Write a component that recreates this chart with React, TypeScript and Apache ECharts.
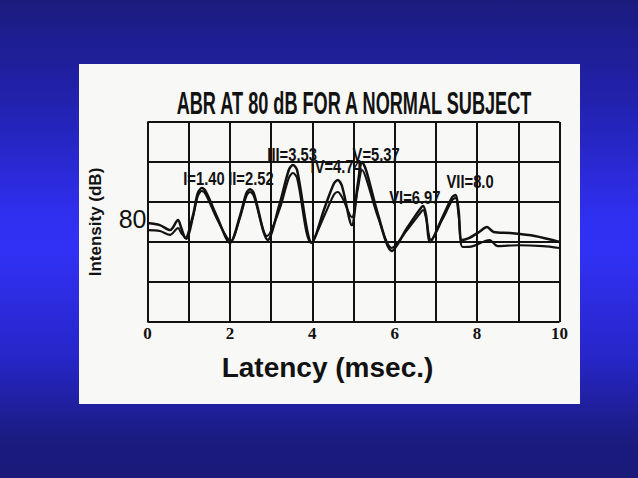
import React, { useEffect, useRef } from 'react';
import * as echarts from 'echarts';

// Trace A (upper / outer waveform): latency in ms, intensity reading
const latencyA = [0, 0.3, 0.55, 0.74, 0.82, 0.92, 1.1, 1.22, 1.32, 1.42, 1.7, 2.0, 2.25, 2.4, 2.49, 2.58, 2.92, 3.2, 3.43, 3.53, 3.63, 3.99, 4.3, 4.52, 4.62, 4.72, 4.96, 5.1, 5.21, 5.32, 5.6, 5.93, 6.3, 6.6, 6.69, 6.76, 6.86, 7.15, 7.4, 7.48, 7.55, 7.63, 7.8, 8.05, 8.24, 8.4, 8.8, 9.4, 10];
const intensityA = [78.3, 77.4, 75.2, 79.6, 76.1, 71.7, 81.4, 91.4, 93.6, 91.9, 80.5, 69.6, 81.8, 91.4, 93.1, 91.4, 70.9, 86.2, 101.5, 103.7, 101.5, 69.7, 85.0, 95.4, 97.1, 94.5, 77.4, 94.9, 105.0, 100.6, 81.8, 66.1, 76.1, 84.0, 85.7, 81.8, 70.0, 80.5, 89.7, 90.6, 84.0, 70.9, 71.7, 74.4, 76.6, 74.4, 73.9, 72.6, 70.0];

// Trace B (lower / inner waveform)
const latencyB = [0, 0.3, 0.55, 0.74, 0.82, 0.95, 1.1, 1.22, 1.32, 1.42, 1.7, 2.02, 2.25, 2.4, 2.49, 2.58, 2.9, 3.2, 3.43, 3.53, 3.63, 3.97, 4.3, 4.52, 4.62, 4.72, 4.96, 5.1, 5.21, 5.32, 5.6, 5.93, 6.3, 6.6, 6.69, 6.76, 6.88, 7.15, 7.4, 7.48, 7.55, 7.65, 7.9, 8.3, 8.5, 9.0, 9.6, 10];
const intensityB = [75.2, 74.8, 73.1, 76.1, 73.9, 71.3, 80.5, 90.1, 92.3, 90.6, 79.6, 70.4, 80.9, 90.1, 91.9, 90.1, 72.6, 84.0, 98.0, 100.2, 98.0, 69.6, 81.8, 90.6, 91.9, 89.7, 80.9, 92.7, 101.5, 97.1, 80.5, 67.4, 75.2, 82.2, 84.0, 80.5, 70.9, 79.6, 88.4, 89.3, 81.8, 67.8, 68.2, 70.9, 68.2, 68.6, 68.2, 67.4];

// Peak annotations
const peakLabels = ['I=1.40', 'II=2.52', 'III=3.53', 'IV=4.74', 'V=5.37', 'VI=6.97', 'VII=8.0'];
const peakLabelLatency = [1.37, 2.51, 3.51, 4.58, 5.55, 6.49, 7.83];
const peakLabelIntensity = [97.6, 97.6, 108.1, 102.8, 108.1, 89.2, 96.2];

const chartTitle = 'ABR AT 80 dB FOR A NORMAL SUBJECT';
const xName = 'Latency (msec.)';
const yName = 'Intensity (dB)';
const yMarkedValue = 80;

export default function App() {
  const ref = useRef<HTMLDivElement>(null);

  useEffect(() => {
    if (!ref.current) return;
    const chart = echarts.init(ref.current, undefined, { renderer: 'svg' });
    const ink = '#121212';
    const option: any = {
      animation: false,
      backgroundColor: 'transparent',
      grid: { left: 147.5, right: 78.5, top: 122, bottom: 156, containLabel: false },
      graphic: [
        {
          type: 'text',
          x: 354,
          y: 103,
          scaleX: 0.625,
          scaleY: 1.05,
          z: 10,
          style: {
            text: chartTitle,
            font: 'bold 29px "Liberation Sans", Arial, sans-serif',
            fill: ink,
            textAlign: 'center',
            textVerticalAlign: 'middle',
            align: 'center',
            verticalAlign: 'middle',
          },
        },
      ],
      xAxis: {
        type: 'value',
        min: 0,
        max: 10,
        interval: 1,
        axisLine: { show: false },
        axisTick: { show: false },
        splitLine: { show: true, lineStyle: { color: ink, width: 2 } },
        axisLabel: {
          formatter: (v: number) => (v % 2 === 0 ? String(v) : ''),
          fontFamily: '"Liberation Serif", serif',
          fontWeight: 'bold',
          fontSize: 17,
          color: ink,
          margin: 3,
        },
        name: xName,
        nameLocation: 'middle',
        nameGap: 31,
        nameTextStyle: {
          fontFamily: '"Liberation Sans", Arial, sans-serif',
          fontWeight: 'bold',
          fontSize: 28,
          color: ink,
          padding: [0, 52, 0, 0],
        },
      },
      yAxis: [
        {
          type: 'value',
          min: 35,
          max: 122.5,
          interval: 17.5,
          axisLine: { show: false },
          axisTick: { show: false },
          axisLabel: { show: false },
          splitLine: { show: true, lineStyle: { color: ink, width: 2 } },
          name: yName,
          nameLocation: 'middle',
          nameGap: 44,
          nameRotate: 90,
          nameTextStyle: {
            fontFamily: '"Liberation Sans", Arial, sans-serif',
            fontWeight: 'bold',
            fontSize: 17,
            color: ink,
          },
        },
        {
          type: 'value',
          position: 'left',
          min: 35,
          max: 122.5,
          interval: 5,
          axisLine: { show: false },
          axisTick: { show: false },
          splitLine: { show: false },
          axisLabel: {
            formatter: (v: number) => (v === yMarkedValue ? String(yMarkedValue) : ''),
            fontFamily: '"Liberation Sans", Arial, sans-serif',
            fontSize: 25,
            color: ink,
            margin: 1,
            padding: [0, 0, 7, 0],
          },
        },
      ],
      series: [
        {
          type: 'line',
          data: latencyA.map((x, i) => [x, intensityA[i]]),
          showSymbol: false,
          symbol: 'none',
          smooth: 0.3,
          lineStyle: { color: ink, width: 2.5 },
          z: 4,
        },
        {
          type: 'line',
          data: latencyB.map((x, i) => [x, intensityB[i]]),
          showSymbol: false,
          symbol: 'none',
          smooth: 0.3,
          lineStyle: { color: ink, width: 2.1 },
          z: 4,
        },
        {
          type: 'custom',
          coordinateSystem: 'cartesian2d',
          clip: false,
          silent: true,
          z: 6,
          data: peakLabelLatency.map((x, i) => [x, peakLabelIntensity[i]]),
          renderItem: (params: any, api: any) => {
            const p = api.coord([api.value(0), api.value(1)]);
            return {
              type: 'text',
              x: p[0],
              y: p[1],
              scaleX: 0.82,
              scaleY: 1.05,
              style: {
                text: peakLabels[params.dataIndex],
                font: 'bold 18px "Liberation Sans", Arial, sans-serif',
                fill: ink,
                textAlign: 'center',
                textVerticalAlign: 'middle',
                align: 'center',
                verticalAlign: 'middle',
              },
            };
          },
        },
      ],
    };
    chart.setOption(option);
    return () => chart.dispose();
  }, []);

  return (
    <div
      style={{
        position: 'fixed',
        left: 0,
        top: 0,
        width: 638,
        height: 478,
        background:
          'linear-gradient(to bottom, #1b1b7e 0%, #2222b0 22%, #2f2ff0 45%, #3131f6 52%, #2626c8 75%, #1b1b80 92%, #1a1a7a 100%)',
      }}
    >
      <div
        style={{
          position: 'absolute',
          left: 79,
          top: 64,
          width: 501,
          height: 340,
          background: '#f8f8f6',
        }}
      />
      <div ref={ref} style={{ position: 'absolute', left: 0, top: 0, width: 638, height: 478 }} />
    </div>
  );
}
